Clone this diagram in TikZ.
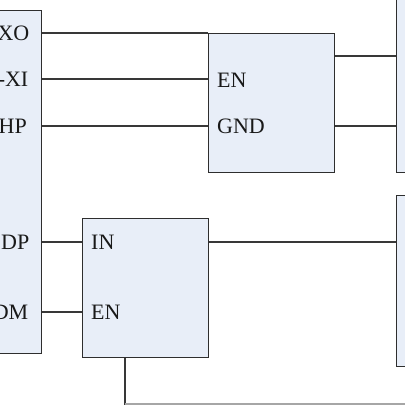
\documentclass[tikz,border=0pt]{standalone}
\usepackage{fontspec}
\setmainfont{Liberation Serif}
\begin{document}
\begin{tikzpicture}[x=1pt,y=-1pt,
  blk/.style={draw=black!82,line width=1.4pt,fill=boxfill,inner sep=0pt,anchor=north west},
  wire/.style={draw=black!78,line width=1.5pt},
  lbl/.style={font=\fontsize{22}{24}\selectfont,text=black!90,inner sep=0pt,anchor=base west},
  rlbl/.style={font=\fontsize{22}{24}\selectfont,text=black!90,inner sep=0pt,anchor=base east}]
\definecolor{boxfill}{HTML}{E8EEF8}
\useasboundingbox (0,0) rectangle (405,405);
% boxes
\node[blk,minimum width=52pt,minimum height=343.5pt] (L) at (-11,9.5) {};
\node[blk,minimum width=126pt,minimum height=139pt] (M1) at (208,33) {};
\node[blk,minimum width=126pt,minimum height=139pt] (M2) at (82,218) {};
\node[blk,minimum width=25pt,minimum height=180pt] (R1) at (396,-8) {};
\node[blk,minimum width=25pt,minimum height=171pt] (R2) at (396,195) {};
% left labels
\node[rlbl] (xo) at (29.5,40.5) {XO};
\node[rlbl] (xi) at (28.5,86.5) {-XI};
\node[rlbl] (hp) at (27,133.5) {HP};
\node[rlbl] (dp) at (29.5,249.5) {DP};
\node[rlbl] (dm) at (28.5,319.5) {DM};
% inner labels
\node[lbl] (en1) at (217,87) {EN};
\node[lbl] (gnd) at (217,133.5) {GND};
\node[lbl] (in2) at (91,249.5) {IN};
\node[lbl] (en2) at (91,319.5) {EN};
% wires
\coordinate (c1) at (0,33);
\coordinate (c2) at (0,79);
\coordinate (c3) at (0,126);
\coordinate (c4) at (0,242);
\coordinate (c5) at (0,312);
\coordinate (c6) at (0,56);
\path[wire] (L.east |- c1) -- (M1.north west);
\path[wire] (L.east |- c2) -- (M1.west |- c2);
\path[wire] (L.east |- c3) -- (M1.west |- c3);
\path[wire] (L.east |- c4) -- (M2.west |- c4);
\path[wire] (L.east |- c5) -- (M2.west |- c5);
\path[wire] (M1.east |- c6) -- (R1.west |- c6);
\path[wire] (M1.east |- c3) -- (R1.west |- c3);
\path[wire] (M2.east |- c4) -- (R2.west |- c4);
\coordinate (b1) at (125,403.5);
\coordinate (b2) at (410,403.5);
\path[wire] (M2.south -| b1) -- (125,406);
\draw[black!35,line width=2pt] (b1) -- (b2);
\end{tikzpicture}
\end{document}
